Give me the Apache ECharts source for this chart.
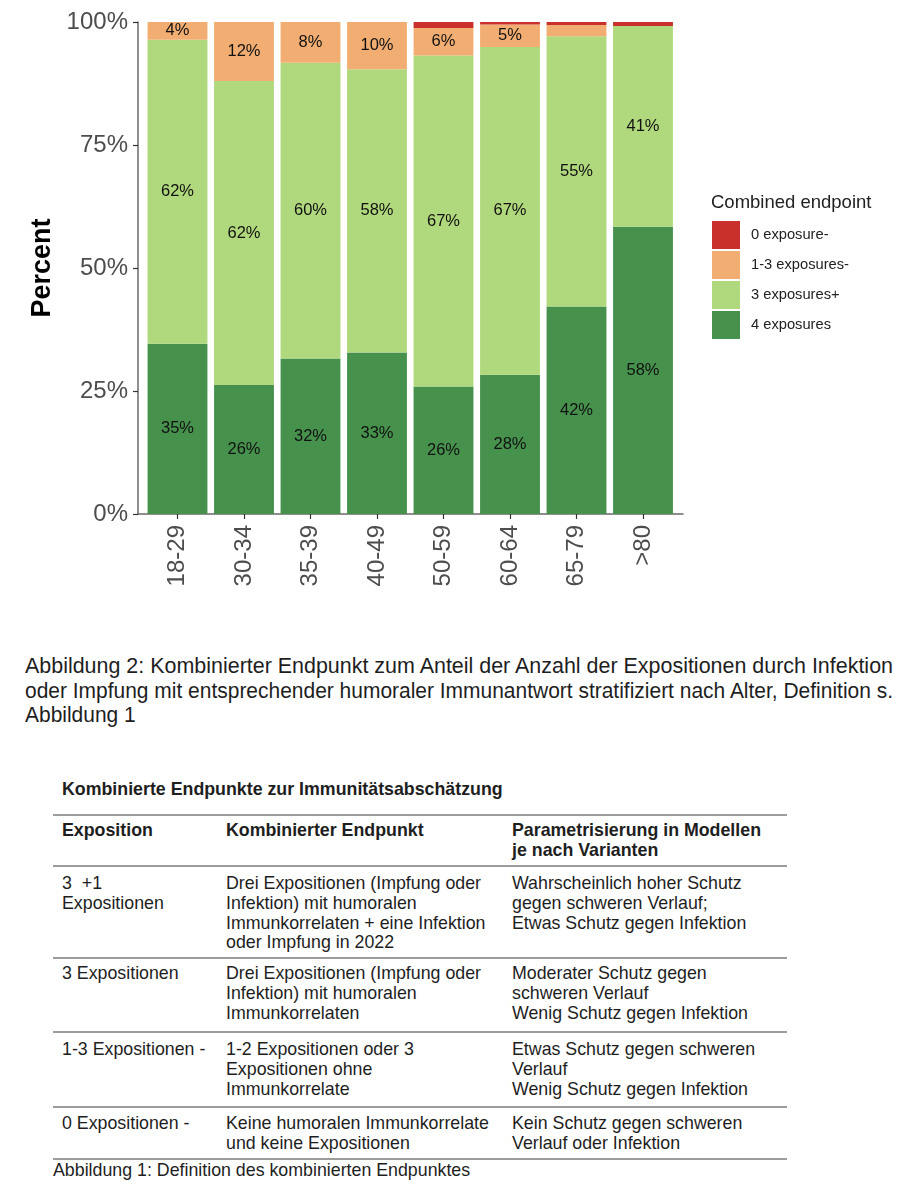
<!DOCTYPE html>
<html>
<head>
<meta charset="utf-8">
<script src="https://cdn.jsdelivr.net/npm/echarts@6/dist/echarts.min.js"></script>
<style>
  html, body { margin: 0; padding: 0; background: #fff; }
  body { width: 911px; height: 1200px; position: relative; overflow: hidden; font-family: "Liberation Sans", Arial, sans-serif; color: #1e1e1e; }
  #chart { position: absolute; left: 0; top: 0; width: 911px; height: 620px; }
  .ln { position: absolute; white-space: nowrap; }
  .cap { font-size: 22.5px; line-height: 24px; }
  .tb { font-size: 17.8px; line-height: 19.8px; }
  .b { font-weight: bold; }
  .rule { position: absolute; left: 53px; width: 734px; height: 2px; background: #9c9c9c; }
</style>
</head>
<body>
<div id="chart"></div>

<div class="ln cap fit" data-w="868" style="left:25px; top:654px;">Abbildung 2: Kombinierter Endpunkt zum Anteil der Anzahl der Expositionen durch Infektion</div>
<div class="ln cap fit" data-w="868" style="left:25px; top:678.5px;">oder Impfung mit entsprechender humoraler Immunantwort stratifiziert nach Alter, Definition s.</div>
<div class="ln cap fitr" style="left:25px; top:703px;">Abbildung 1</div>

<div class="ln tb b" style="left:62px; top:780px;">Kombinierte Endpunkte zur Immunitätsabschätzung</div>
<div class="rule" style="top:814px;"></div>

<div class="ln tb b" style="left:62px; top:821px;">Exposition</div>
<div class="ln tb b" style="left:226px; top:821px;">Kombinierter Endpunkt</div>
<div class="ln tb b" style="left:512px; top:821px;">Parametrisierung in Modellen<br>je nach Varianten</div>
<div class="rule" style="top:865px;"></div>

<div class="ln tb" style="left:62px; top:874px;">3&nbsp; +1<br>Expositionen</div>
<div class="ln tb" style="left:226px; top:874px;">Drei Expositionen (Impfung oder<br>Infektion) mit humoralen<br>Immunkorrelaten + eine Infektion<br>oder Impfung in 2022</div>
<div class="ln tb" style="left:512px; top:874px;">Wahrscheinlich hoher Schutz<br>gegen schweren Verlauf;<br>Etwas Schutz gegen Infektion</div>
<div class="rule" style="top:957px;"></div>

<div class="ln tb" style="left:62px; top:964px;">3 Expositionen</div>
<div class="ln tb" style="left:226px; top:964px;">Drei Expositionen (Impfung oder<br>Infektion) mit humoralen<br>Immunkorrelaten</div>
<div class="ln tb" style="left:512px; top:964px;">Moderater Schutz gegen<br>schweren Verlauf<br>Wenig Schutz gegen Infektion</div>
<div class="rule" style="top:1031px;"></div>

<div class="ln tb" style="left:62px; top:1040px;">1-3 Expositionen -</div>
<div class="ln tb" style="left:226px; top:1040px;">1-2 Expositionen oder 3<br>Expositionen ohne<br>Immunkorrelate</div>
<div class="ln tb" style="left:512px; top:1040px;">Etwas Schutz gegen schweren<br>Verlauf<br>Wenig Schutz gegen Infektion</div>
<div class="rule" style="top:1106px;"></div>

<div class="ln tb" style="left:62px; top:1114px;">0 Expositionen -</div>
<div class="ln tb" style="left:226px; top:1114px;">Keine humoralen Immunkorrelate<br>und keine Expositionen</div>
<div class="ln tb" style="left:512px; top:1114px;">Kein Schutz gegen schweren<br>Verlauf oder Infektion</div>
<div class="rule" style="top:1158px;"></div>

<div class="ln tb" style="left:53px; top:1161px;">Abbildung 1: Definition des kombinierten Endpunktes</div>

<script>
// ---- data ----
const categories = ['18-29', '30-34', '35-39', '40-49', '50-59', '60-64', '65-79', '>80'];
const seriesNames = ['0 exposure-', '1-3 exposures-', '3 exposures+', '4 exposures'];
const fourExposures = [34.6, 26.2, 31.6, 32.8, 25.9, 28.3, 42.2, 58.4];
const threeExposuresPlus = [61.8, 61.8, 60.1, 57.6, 67.3, 66.6, 54.9, 40.8];
const oneToThreeExposuresMinus = [3.6, 12.0, 8.3, 9.6, 5.6, 4.6, 2.3, 0];
const zeroExposureMinus = [0, 0, 0, 0, 1.2, 0.5, 0.6, 0.8];
const yTickValues = [0, 25, 50, 75, 100];

// ---- fit justified caption lines (horizontal condensing like the source font) ----
let capScale = 1;
document.querySelectorAll('.fit').forEach(function (el) {
  const target = parseFloat(el.getAttribute('data-w'));
  const w = el.getBoundingClientRect().width;
  const s = target / w;
  capScale = Math.min(capScale, s);
  el.style.transformOrigin = '0 0';
  el.style.transform = 'scaleX(' + s + ')';
});
document.querySelectorAll('.fitr').forEach(function (el) {
  el.style.transformOrigin = '0 0';
  el.style.transform = 'scaleX(' + capScale + ')';
});

const FONT = '"Liberation Sans", Arial, sans-serif';
const colors = { z: '#c9302c', o: '#f2ae72', l: '#b0d87c', d: '#46914c' };

function lbl(p) {
  return p.value >= 3.5 ? Math.round(p.value) + '%' : '';
}
function barSeries(name, data, color) {
  return {
    name: name, type: 'bar', stack: 'total', xAxisIndex: 0, yAxisIndex: 0,
    data: data, barWidth: '90%',
    itemStyle: { color: color },
    label: { show: true, position: 'inside', formatter: lbl, fontSize: 16.5, color: '#111', fontFamily: FONT },
    emphasis: { disabled: true }
  };
}

const chart = echarts.init(document.getElementById('chart'), null, { renderer: 'canvas' });
chart.setOption({
  animation: false,
  backgroundColor: '#fff',
  textStyle: { fontFamily: FONT },
  title: {
    text: 'Combined endpoint', left: 711, top: 193, padding: 0,
    textStyle: { fontSize: 18.5, fontWeight: 'normal', color: '#222', fontFamily: FONT }
  },
  legend: {
    data: seriesNames, orient: 'vertical', left: 712, top: 221, padding: 0,
    itemWidth: 28, itemHeight: 28, itemGap: 2, icon: 'rect',
    selectedMode: false,
    textStyle: { fontSize: 14.7, color: '#222', fontFamily: FONT, padding: [0, 0, 0, 6] }
  },
  grid: [
    { left: 144.25, width: 532, top: 22, bottom: 106, outerBoundsMode: 'none' },
    { left: 138, right: 228, top: 22, bottom: 106, outerBoundsMode: 'none' }
  ],
  xAxis: [
    {
      gridIndex: 0, type: 'category', data: categories,
      axisLine: { show: false },
      axisTick: { show: true, alignWithLabel: true, length: 5, lineStyle: { color: '#333', width: 1.2 } },
      axisLabel: { rotate: 90, fontSize: 24, color: '#4d4d4d', margin: 11, fontFamily: FONT },
      splitLine: { show: false }
    },
    {
      gridIndex: 1, type: 'value', min: 0, max: 1,
      axisLine: { show: true, onZero: false, lineStyle: { color: '#6a6a6a', width: 1.5 } },
      axisTick: { show: false }, axisLabel: { show: false }, splitLine: { show: false }
    }
  ],
  yAxis: [
    { gridIndex: 0, type: 'value', min: 0, max: 100, show: false },
    {
      gridIndex: 1, type: 'value', min: 0, max: 100, interval: 25,
      axisLine: { show: true, onZero: false, lineStyle: { color: '#6a6a6a', width: 1.5 } },
      axisTick: { show: true, length: 5, lineStyle: { color: '#333', width: 1.2 } },
      axisLabel: {
        fontSize: 24, color: '#4d4d4d', margin: 10, fontFamily: FONT,
        formatter: function (v) { return yTickValues.indexOf(v) >= 0 ? v + '%' : ''; }
      },
      splitLine: { show: false },
      name: 'Percent', nameLocation: 'middle', nameGap: 78, nameRotate: 90,
      nameTextStyle: { fontSize: 27, fontWeight: 'bold', color: '#000', fontFamily: FONT }
    }
  ],
  series: [
    barSeries(seriesNames[3], fourExposures, colors.d),
    barSeries(seriesNames[2], threeExposuresPlus, colors.l),
    barSeries(seriesNames[1], oneToThreeExposuresMinus, colors.o),
    barSeries(seriesNames[0], zeroExposureMinus, colors.z)
  ]
});
</script>
</body>
</html>
